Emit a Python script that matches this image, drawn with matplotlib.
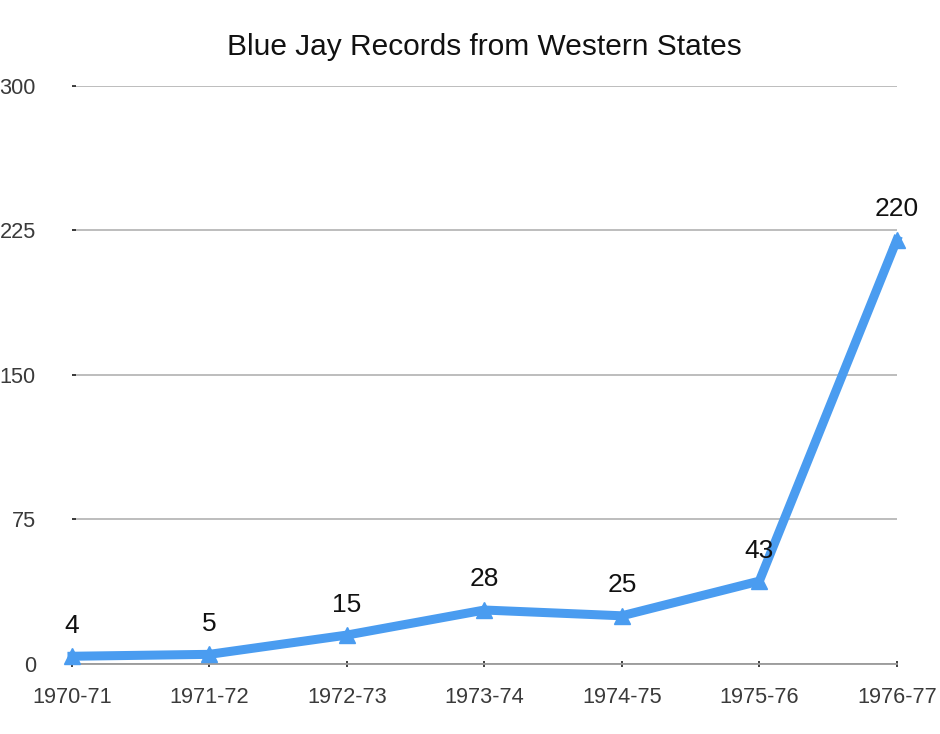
import matplotlib.pyplot as plt
import numpy as np

seasons = ["1970-71", "1971-72", "1972-73", "1973-74", "1974-75", "1975-76", "1976-77"]
records = [4, 5, 15, 28, 25, 43, 220]
y_ticks = [0, 75, 150, 225, 300]

LINE_BLUE = "#4A9CF0"

plt.rcParams["font.family"] = ["Liberation Sans", "DejaVu Sans"]

fig = plt.figure(figsize=(9.4, 7.34), dpi=100)
ax = fig.add_axes([0.0766, 0.0954, 0.954 - 0.0766, 0.883 - 0.0954])

x = np.arange(len(seasons))
ax.plot(x, records, color=LINE_BLUE, lw=6.5, marker="^", ms=12,
        mec=LINE_BLUE, mfc=LINE_BLUE, clip_on=False, zorder=3)

# value labels above each point
for xi, v in zip(x, records):
    ax.annotate(str(v), (xi, v), xytext=(0, 22), textcoords="offset points",
                ha="center", va="center", fontsize=19, color="#111111")

ax.set_xlim(0, len(seasons) - 1)
ax.set_ylim(0, 300)
ax.set_xticks(x)
ax.set_xticklabels(seasons)
ax.set_yticks(y_ticks)

ax.grid(axis="y", color="#b8b8b8", lw=1.3)
ax.set_axisbelow(True)
for s in ("top", "right", "left"):
    ax.spines[s].set_visible(False)
ax.spines["bottom"].set_color("#9a9a9a")
ax.spines["bottom"].set_linewidth(1.3)

ax.tick_params(axis="x", direction="inout", length=5, width=1.2, color="#222222",
               labelsize=15.7, labelcolor="#3a3a3a", pad=14)
ax.tick_params(axis="y", direction="in", length=3, width=1.2, color="#222222",
               labelsize=15.7, labelcolor="#3a3a3a", pad=26)

ax.set_title("Blue Jay Records from Western States", fontsize=21.5, color="#111111", pad=22)

fig.savefig("out.png", dpi=100)
